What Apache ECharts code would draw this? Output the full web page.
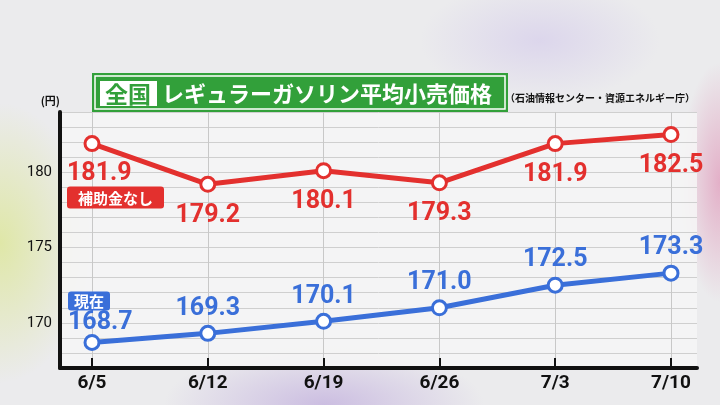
<!DOCTYPE html>
<html>
<head>
<meta charset="utf-8">
<script src="https://cdn.jsdelivr.net/npm/echarts@6/dist/echarts.min.js"></script>
<style>
  html, body { margin: 0; padding: 0; }
  body {
    width: 720px; height: 405px; overflow: hidden;
    background:
      radial-gradient(ellipse 90px 140px at 0% 60%, rgba(220,230,150,0.8), rgba(220,230,150,0) 100%),
      radial-gradient(ellipse 160px 60px at 45% 100%, rgba(190,170,220,0.7), rgba(190,170,220,0) 100%),
      radial-gradient(ellipse 40px 120px at 100% 45%, rgba(225,160,190,0.8), rgba(225,160,190,0) 100%),
      radial-gradient(ellipse 120px 60px at 75% 10%, rgba(210,200,235,0.6), rgba(210,200,235,0) 100%),
      #ebebed;
  }
  #chart { width: 720px; height: 405px; }
</style>
</head>
<body>
<div id="chart"></div>
<script>
// 日付
const dates = ['6/5', '6/12', '6/19', '6/26', '7/3', '7/10']
// 補助金なし
const noSubsidy = [181.9, 179.2, 180.1, 179.3, 181.9, 182.5]
// 現在
const current = [168.7, 169.3, 170.1, 171.0, 172.5, 173.3]
// 目盛りラベル
const yTicks = [170, 175, 180]

const RED = '#e3302e'
const BLUE = '#3a6fd9'
const GREEN = '#32a03a'
const numFont = 'Roboto, "Noto Sans", sans-serif'
const jpFont = '"Noto Sans CJK JP", sans-serif'

const chart = echarts.init(document.getElementById('chart'), null, { renderer: 'canvas' })

const option = {
  backgroundColor: 'transparent',
  animation: false,
  graphic: [
    // タイトル枠
    { type: 'rect', shape: { x: 92, y: 73, width: 416, height: 39 }, style: { fill: GREEN }, z: 10 },
    { type: 'rect', shape: { x: 95, y: 76, width: 410, height: 33 }, style: { fill: 'none', stroke: '#fff', lineWidth: 1.5 }, z: 10 },
    { type: 'rect', shape: { x: 100, y: 81, width: 57, height: 25 }, style: { fill: '#fff' }, z: 10 },
    {
      type: 'text', x: 128, y: 94, z: 11,
      style: { text: '全国', fill: GREEN, font: 'bold 23px ' + jpFont, align: 'center', verticalAlign: 'middle' }
    },
    {
      type: 'text', x: 162, y: 94, z: 11,
      style: { text: 'レギュラーガソリン平均小売価格', fill: '#fff', font: 'bold 22px ' + jpFont, verticalAlign: 'middle' }
    },
    {
      type: 'text', x: 695, y: 98, z: 11,
      style: { text: '（石油情報センター・資源エネルギー庁）', fill: '#111', font: 'bold 10px ' + jpFont, align: 'right', verticalAlign: 'middle' }
    }
  ],
  grid: [
    // 枠
    { left: 60, right: 23, top: 112, bottom: 37, show: true, backgroundColor: 'rgba(246,246,246,0.85)', borderWidth: 0 },
    // データ
    { left: 92, right: 49, top: 112, bottom: 37 }
  ],
  xAxis: [
    {
      gridIndex: 0,
      type: 'value',
      min: 0,
      max: 1,
      axisLine: { show: true, lineStyle: { color: '#111', width: 4 } },
      axisTick: { show: false },
      axisLabel: { show: false },
      splitLine: { show: false }
    },
    {
      gridIndex: 1,
      type: 'category',
      boundaryGap: false,
      data: dates,
      axisLine: { show: false },
      axisTick: { show: true, inside: true, length: 10, lineStyle: { color: '#111', width: 2 } },
      axisLabel: { margin: 6, color: '#111', fontSize: 19, fontWeight: 'bold', fontFamily: numFont },
      splitLine: { show: true, interval: 0, lineStyle: { color: '#c8c8c8', width: 1 } }
    }
  ],
  yAxis: [
    {
      gridIndex: 0,
      type: 'value',
      min: 167,
      max: 184,
      interval: 1,
      name: '(円)',
      nameLocation: 'end',
      nameGap: 6,
      nameTextStyle: { color: '#111', fontSize: 11, fontWeight: 'bold', fontFamily: jpFont, align: 'right' },
      axisLine: { show: true, lineStyle: { color: '#111', width: 4 } },
      axisTick: { show: false },
      axisLabel: {
        margin: 8,
        color: '#111',
        fontSize: 15,
        fontFamily: numFont,
        formatter: v => (yTicks.includes(v) ? String(v) : '')
      },
      splitLine: { show: true, lineStyle: { color: '#cfcfcf', width: 1 } }
    },
    {
      gridIndex: 1,
      type: 'value',
      min: 167,
      max: 184,
      show: false,
      splitLine: { show: false }
    }
  ],
  series: [
    {
      name: '補助金なし',
      type: 'line',
      xAxisIndex: 1,
      yAxisIndex: 1,
      symbol: 'circle',
      symbolSize: 14,
      lineStyle: { color: RED, width: 5 },
      itemStyle: { color: '#fff', borderColor: RED, borderWidth: 3 },
      label: {
        show: true,
        position: 'bottom',
        distance: 10,
        color: RED,
        fontSize: 25,
        fontWeight: 'bold',
        fontFamily: numFont,
        formatter: p => p.value.toFixed(1),
        rich: {
          v: { color: RED, fontSize: 25, fontWeight: 'bold', fontFamily: numFont, lineHeight: 30 },
          tag: {
            color: '#fff', fontSize: 15, fontWeight: 'bold', fontFamily: jpFont,
            backgroundColor: RED, borderRadius: 3, padding: [4, 11, 3, 11], lineHeight: 17
          }
        }
      },
      data: noSubsidy.map((v, i) => i === 0
        ? { value: v, label: { align: 'left', offset: [-25, 0], distance: 7, formatter: p => '{v|' + p.value.toFixed(1) + '}\n{tag|補助金なし}' } }
        : v)
    },
    {
      name: '現在',
      type: 'line',
      xAxisIndex: 1,
      yAxisIndex: 1,
      symbol: 'circle',
      symbolSize: 14,
      lineStyle: { color: BLUE, width: 5 },
      itemStyle: { color: '#fff', borderColor: BLUE, borderWidth: 3 },
      label: {
        show: true,
        position: 'top',
        distance: 4,
        color: BLUE,
        fontSize: 25,
        fontWeight: 'bold',
        fontFamily: numFont,
        formatter: p => p.value.toFixed(1),
        rich: {
          v: { color: BLUE, fontSize: 25, fontWeight: 'bold', fontFamily: numFont, lineHeight: 28 },
          tag: {
            color: '#fff', fontSize: 15, fontWeight: 'bold', fontFamily: jpFont,
            backgroundColor: BLUE, borderRadius: 3, padding: [2, 6, 2, 6], lineHeight: 16
          }
        }
      },
      data: current.map((v, i) => i === 0
        ? { value: v, label: { align: 'left', offset: [-24, 3], distance: 0, formatter: p => '{tag|現在}\n{v|' + p.value.toFixed(1) + '}' } }
        : v)
    }
  ]
}

chart.setOption(option)
window.addEventListener('resize', () => chart.resize())
</script>
</body>
</html>
